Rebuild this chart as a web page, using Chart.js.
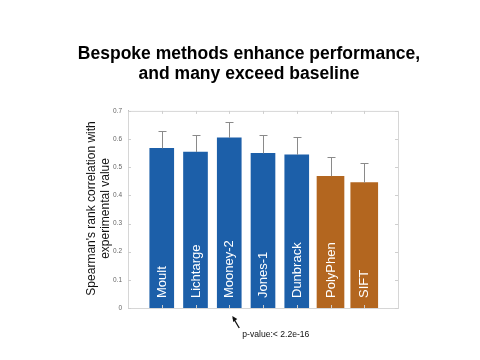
<!DOCTYPE html>
<html>
<head>
<meta charset="utf-8">
<script src="https://cdn.jsdelivr.net/npm/chart.js@4/dist/chart.umd.min.js"></script>
<style>
  html, body { margin: 0; padding: 0; background: #fff; }
  #wrap { width: 480px; height: 360px; }
</style>
</head>
<body>
<div id="wrap"><canvas id="myChart"></canvas></div>
<script>
    /* Data */

var methods = ['Moult', 'Lichtarge', 'Mooney-2', 'Jones-1', 'Dunbrack', 'PolyPhen', 'SIFT'];
var rho     = [0.567, 0.554, 0.604, 0.549, 0.544, 0.468, 0.445];
var rhoErr  = [0.062, 0.059, 0.056, 0.064, 0.065, 0.067, 0.069];
var kind    = ['bespoke', 'bespoke', 'bespoke', 'bespoke', 'bespoke', 'baseline', 'baseline'];
var yTicks  = [0, 0.1, 0.2, 0.3, 0.4, 0.5, 0.6, 0.7];

var blue = '#1c5fa9';
var orange = '#b3661f';

    /* Extra drawing: box, error bars, labels in bars, y title, p-value note */

var extras = {
    id: 'extras',
    afterDatasetsDraw: function (chart) {
        var c = chart.ctx;
        var xs = chart.scales.x, ys = chart.scales.y;
        var a = chart.chartArea;

        c.save();
        // box around plot
        c.strokeStyle = '#d6d6d6';
        c.lineWidth = 1;
        c.strokeRect(a.left + 0.5, a.top + 0.5, a.right - a.left, a.bottom - a.top);

        // small inward ticks
        c.strokeStyle = '#cfcfcf';
        c.beginPath();
        yTicks.forEach(function (t) {
            var y = Math.round(ys.getPixelForValue(t)) + 0.5;
            c.moveTo(a.left, y); c.lineTo(a.left + 3, y);
            c.moveTo(a.right, y); c.lineTo(a.right - 3, y);
        });
        methods.forEach(function (m, i) {
            var x = Math.round(xs.getPixelForValue(i + 1)) + 0.5;
            c.moveTo(x, a.top); c.lineTo(x, a.top + 3);
            c.moveTo(x, a.bottom); c.lineTo(x, a.bottom - 3);
        });
        c.stroke();

        // one-sided error bars
        c.strokeStyle = '#8a8a8a';
        c.lineWidth = 1;
        c.beginPath();
        methods.forEach(function (m, i) {
            var x = Math.round(xs.getPixelForValue(i + 1)) + 0.5;
            var y0 = ys.getPixelForValue(rho[i]);
            var y1 = Math.round(ys.getPixelForValue(rho[i] + rhoErr[i])) + 0.5;
            c.moveTo(x, y0); c.lineTo(x, y1);
            c.moveTo(x - 4, y1); c.lineTo(x + 4, y1);
        });
        c.stroke();

        // method names inside bars
        c.fillStyle = '#ffffff';
        c.font = '13px "Liberation Sans", Arial, sans-serif';
        c.textAlign = 'left';
        c.textBaseline = 'middle';
        methods.forEach(function (m, i) {
            var x = xs.getPixelForValue(i + 1);
            c.save();
            c.translate(x + 0.5, a.bottom - 10);
            c.rotate(-Math.PI / 2);
            c.fillText(m, 0, 0);
            c.restore();
        });

        // y axis title
        c.fillStyle = '#111';
        c.font = '12px "Liberation Sans", Arial, sans-serif';
        c.textAlign = 'center';
        c.save();
        c.translate(92, (a.top + a.bottom) / 2 - 1);
        c.rotate(-Math.PI / 2);
        c.fillText("Spearman's rank correlation with", 0, 0);
        c.fillText('experimental value', 0, 13.5);
        c.restore();

        // p-value arrow under Mooney-2
        var ax = xs.getPixelForValue(3) + 3;
        var ay = a.bottom + 8;
        c.strokeStyle = '#111';
        c.fillStyle = '#111';
        c.lineWidth = 1.3;
        c.beginPath();
        c.moveTo(ax + 7, ay + 12);
        c.lineTo(ax + 1, ay + 2);
        c.stroke();
        c.beginPath();
        c.moveTo(ax, ay);
        c.lineTo(ax + 5, ay + 3);
        c.lineTo(ax + 1, ay + 6);
        c.closePath();
        c.fill();
        c.font = '8.6px "Liberation Sans", Arial, sans-serif';
        c.textAlign = 'left';
        c.fillText('p-value:< 2.2e-16', ax + 10, ay + 19);
        c.restore();
    }
};

    /* Chart */

var ctx = document.getElementById('myChart').getContext('2d');

function pointsFor(group) {
    var out = [];
    methods.forEach(function (m, i) {
        if (kind[i] === group) out.push({ x: i + 1, y: rho[i] });
    });
    return out;
}

var myChart = new Chart(ctx, {
    type: 'bar',
    data: {
        datasets: [{
            data: pointsFor('bespoke'),
            backgroundColor: blue,
            barThickness: 24,
            borderWidth: 0
        }, {
            data: pointsFor('baseline'),
            backgroundColor: orange,
            barThickness: 27,
            borderWidth: 0
        }]
    },
    options: {
        responsive: true,
        maintainAspectRatio: false,
        animation: false,
        grouped: false,
        layout: { padding: { left: 18, right: 0, top: 0, bottom: 0 } },
        plugins: {
            legend: { display: false },
            tooltip: { enabled: false },
            title: {
                display: true,
                text: ['Bespoke methods enhance performance,', 'and many exceed baseline'],
                color: '#000',
                font: { family: '"Liberation Sans", Arial, sans-serif', size: 17.5, weight: 'bold', lineHeight: 1.14 },
                padding: { top: 44, bottom: 27 }
            }
        },
        scales: {
            x: {
                type: 'linear',
                min: 0,
                max: 8,
                offset: false,
                grid: { display: false },
                border: { color: '#bdbdbd' },
                ticks: { display: false },
                afterFit: function (s) { s.height = 52; }
            },
            y: {
                min: 0,
                max: 0.7,
                afterBuildTicks: function (s) { s.ticks = yTicks.map(function (v) { return { value: v }; }); },
                grid: { display: false, drawTicks: false },
                border: { color: '#bdbdbd' },
                ticks: {
                    color: '#666',
                    padding: 6,
                    font: { family: '"Liberation Sans", Arial, sans-serif', size: 6.5 }
                },
                afterFit: function (s) { s.width = 110; }
            },
            yRight: {
                position: 'right',
                display: true,
                grid: { display: false },
                border: { display: false },
                ticks: { display: false },
                afterFit: function (s) { s.width = 82; }
            }
        }
    },
    plugins: [extras]
});
</script>
</body>
</html>
